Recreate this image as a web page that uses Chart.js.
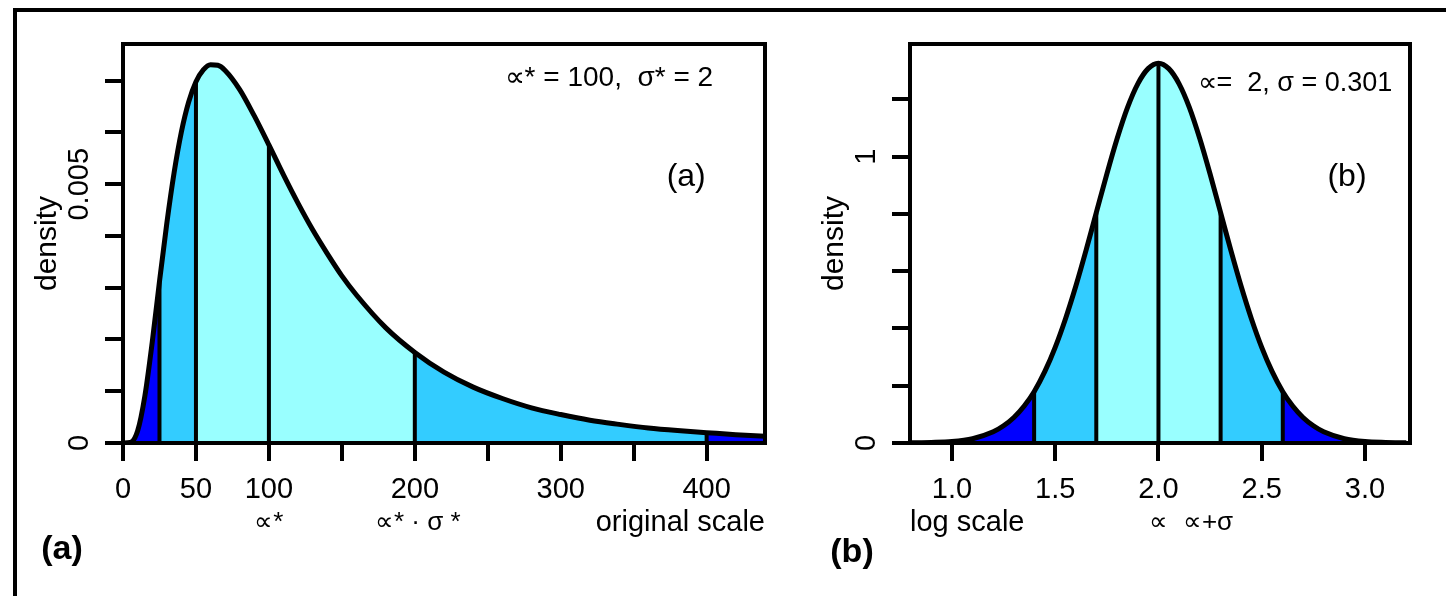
<!DOCTYPE html>
<html>
<head>
<meta charset="utf-8">
<script src="https://cdn.jsdelivr.net/npm/chart.js@4.4.1/dist/chart.umd.min.js"></script>
<style>
  html, body { margin: 0; padding: 0; background: #fff; }
  body { width: 1446px; height: 596px; position: relative; overflow: hidden; }
  #frame { position: absolute; left: 13px; top: 8px; width: 1450px; height: 600px;
           border-top: 4px solid #000; border-left: 4px solid #000; }
  canvas { position: absolute; top: 0; }
  #chartA { left: 0; }
  #chartB { left: 800px; }
</style>
</head>
<body>
<div id="frame"></div>
<canvas id="chartA" width="800" height="596"></canvas>
<canvas id="chartB" width="646" height="596"></canvas>
<script>
// (a) log-normal density, original scale
const xA = [0, 5, 10, 15, 20, 25, 30, 35, 40, 45, 50, 55, 60, 65, 70, 80, 90, 100,
            110, 120, 130, 140, 150, 160, 180, 200, 220, 240, 260, 280, 300, 320,
            340, 360, 380, 400, 420, 440];
const densA = [0, 0.00001, 0.00023, 0.00091, 0.00194, 0.00312, 0.00424, 0.00522,
               0.00601, 0.00659, 0.00698, 0.00721, 0.00731, 0.0073, 0.0072, 0.00683,
               0.00632, 0.00576, 0.00518, 0.00463, 0.00412, 0.00366, 0.00323, 0.00286,
               0.00223, 0.00175, 0.00137, 0.00108, 0.00086, 0.00068, 0.00055, 0.00044,
               0.00036, 0.00029, 0.00024, 0.0002, 0.00016, 0.00013];
const edgesA = [0, 25, 50, 100, 200, 400, 440];
const xTicksA = [0, 50, 100, 200, 300, 400];
const yTicksA = [0, 0.005];

// (b) normal density, log scale
const xB = [0.8, 0.9, 1.0, 1.1, 1.2, 1.25, 1.3, 1.35, 1.398, 1.45, 1.5, 1.55, 1.6, 1.65,
            1.699, 1.75, 1.8, 1.85, 1.9, 1.95, 2.0, 2.05, 2.1, 2.15, 2.2, 2.25, 2.301,
            2.35, 2.4, 2.45, 2.5, 2.55, 2.602, 2.65, 2.7, 2.75, 2.8, 2.9, 3.0, 3.1, 3.2];
const densB = [0.001, 0.002, 0.005, 0.015, 0.039, 0.06, 0.089, 0.129, 0.179, 0.25,
               0.334, 0.434, 0.548, 0.674, 0.804, 0.939, 1.063, 1.171, 1.254, 1.307,
               1.326, 1.307, 1.254, 1.171, 1.063, 0.939, 0.804, 0.674, 0.548, 0.434,
               0.334, 0.25, 0.179, 0.129, 0.089, 0.06, 0.039, 0.015, 0.005, 0.002, 0.001];
const edgesB = [0.8, 1.398, 1.699, 2.0, 2.301, 2.602, 3.2];
const xTicksB = [1.0, 1.5, 2.0, 2.5, 3.0];
const yTicksB = [0, 1];

const FONT = '"Liberation Sans", Arial, sans-serif';
Chart.defaults.font.family = FONT;
Chart.defaults.color = '#000';

const DARK = '#0000ff', MID = '#33ccff', LIGHT = '#99ffff';
const bandColors = [DARK, MID, LIGHT, LIGHT, MID, DARK];

function buildDatasets(xs, ys, edges) {
  const all = xs.map((x, i) => ({ x, y: ys[i] }));
  const sets = [{ data: all, borderColor: '#000', borderWidth: 5, order: 0 }];
  edges.slice(1, -1).forEach(c => {
    sets.push({
      data: [{ x: c, y: 0 }, { x: c, y: ys[xs.indexOf(c)] }],
      borderColor: '#000', borderWidth: 4, cubicInterpolationMode: 'default',
      tension: 0, order: 1
    });
  });
  for (let i = 0; i < edges.length - 1; i++) {
    sets.push({
      data: all.filter(p => p.x >= edges[i] && p.x <= edges[i + 1]),
      borderWidth: 0, borderColor: 'rgba(0,0,0,0)',
      backgroundColor: bandColors[i], fill: 'origin', order: 2
    });
  }
  return sets;
}

function near(list, v) {
  return list.find(t => Math.abs(t - v) < 1e-9);
}

function text(ctx, s, x, y, font, align, rot) {
  ctx.save();
  ctx.translate(x, y);
  if (rot) ctx.rotate(rot);
  ctx.font = font;
  ctx.textAlign = align || 'center';
  ctx.textBaseline = 'middle';
  ctx.fillStyle = '#000';
  ctx.fillText(s, 0, 0);
  ctx.restore();
}

function makeChart(id, cfg) {
  const framePlugin = {
    id: 'frameAndNotes',
    afterDraw(chart) {
      const { ctx, chartArea: a, scales: { x, y } } = chart;
      ctx.save();
      ctx.lineWidth = 4;
      ctx.strokeStyle = '#000';
      ctx.strokeRect(a.left, a.top, a.right - a.left, a.bottom - a.top);
      ctx.restore();
      text(ctx, 'density', a.left - 75, (a.top + a.bottom) / 2, '30px ' + FONT, 'center', -Math.PI / 2);
      cfg.notes(ctx, a, x, y);
    }
  };
  return new Chart(document.getElementById(id), {
    type: 'line',
    data: { datasets: buildDatasets(cfg.xs, cfg.ys, cfg.edges) },
    options: {
      responsive: false,
      animation: false,
      layout: { padding: { left: 0, top: 44, right: cfg.padRight, bottom: 0 } },
      elements: { point: { radius: 0 }, line: { cubicInterpolationMode: 'monotone', fill: false } },
      plugins: { legend: { display: false }, tooltip: { enabled: false } },
      scales: {
        x: {
          type: 'linear', min: cfg.xMin, max: cfg.xMax,
          border: { display: false },
          grid: { drawOnChartArea: false, tickLength: 18, lineWidth: 4, color: '#000' },
          ticks: {
            stepSize: cfg.xStep, includeBounds: false, autoSkip: false, maxRotation: 0,
            padding: 12, font: { size: 29 },
            callback: v => { const t = near(cfg.xTicks, v); return t === undefined ? '' : cfg.xFmt(t); }
          },
          afterFit: s => { s.height = 153; }
        },
        y: {
          min: 0, max: cfg.yMax,
          border: { display: false },
          grid: { drawOnChartArea: false, tickLength: 18, lineWidth: 4, color: '#000' },
          ticks: {
            stepSize: cfg.yStep, includeBounds: false, autoSkip: false,
            minRotation: 90, maxRotation: 90, crossAlign: 'center',
            padding: cfg.yPad, font: { size: 29 },
            callback: v => { const t = near(cfg.yTicks, v); return t === undefined ? '' : String(t); }
          },
          afterFit: s => { s.width = cfg.yWidth; }
        }
      }
    },
    plugins: [framePlugin]
  });
}

makeChart('chartA', {
  xs: xA, ys: densA, edges: edgesA, xTicks: xTicksA, yTicks: yTicksA,
  xMin: 0, xMax: 440, xStep: 50, yMax: 0.00771, yStep: 0.001,
  xFmt: t => String(t), yWidth: 123, yPad: -11, padRight: 35,
  notes(ctx, a, x, y) {
    text(ctx, '\u221D* = 100,  \u03C3* = 2', x.getPixelForValue(333), y.getPixelForValue(0.00705), '28px ' + FONT);
    text(ctx, '(a)', x.getPixelForValue(386), y.getPixelForValue(0.00514), '32px ' + FONT);
    text(ctx, '\u221D*', x.getPixelForValue(100), a.bottom + 80, '26px ' + FONT);
    text(ctx, '\u221D* \u00B7 \u03C3 *', x.getPixelForValue(202), a.bottom + 80, '26px ' + FONT);
    text(ctx, 'original scale', a.right, a.bottom + 80, '29px ' + FONT, 'right');
    text(ctx, '(a)', a.left - 61, a.bottom + 107, 'bold 34px ' + FONT);
  }
});

makeChart('chartB', {
  xs: xB, ys: densB, edges: edgesB, xTicks: xTicksB, yTicks: yTicksB,
  xMin: 0.797, xMax: 3.218, xStep: 0.5, yMax: 1.393, yStep: 0.2,
  xFmt: t => t.toFixed(1), yWidth: 110, yPad: 17, padRight: 36,
  notes(ctx, a, x, y) {
    text(ctx, '\u221D=  2, \u03C3 = 0.301', x.getPixelForValue(2.661), y.getPixelForValue(1.2565), '27px ' + FONT);
    text(ctx, '(b)', x.getPixelForValue(2.913), y.getPixelForValue(0.928), '32px ' + FONT);
    text(ctx, 'log scale', a.left, a.bottom + 80, '29px ' + FONT, 'left');
    text(ctx, '\u221D', x.getPixelForValue(2.0), a.bottom + 80, '26px ' + FONT);
    text(ctx, '\u221D+\u03C3', x.getPixelForValue(2.24), a.bottom + 80, '26px ' + FONT);
    text(ctx, '(b)', a.left - 58, a.bottom + 110, 'bold 34px ' + FONT);
  }
});
</script>
</body>
</html>
